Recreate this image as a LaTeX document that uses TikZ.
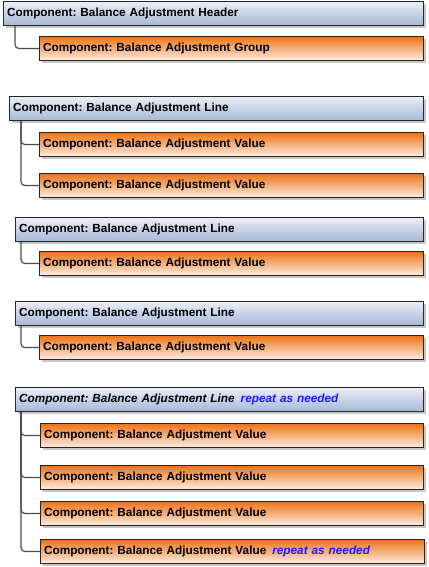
\documentclass[tikz,border=0pt]{standalone}
\usepackage{fontspec}
\setmainfont{Liberation Sans}
\usetikzlibrary{shadows}
\definecolor{blueTop}{HTML}{EAEEF7}
\definecolor{blueBot}{HTML}{A6B8D8}
\definecolor{orTop}{HTML}{EC7419}
\definecolor{orBot}{HTML}{FDEEE2}
\definecolor{repBlue}{HTML}{1A1AFF}
\frenchspacing
\begin{document}
\begin{tikzpicture}[x=1pt, y=-1pt,
  comp node/.style={draw=black!85, line width=1.1pt, anchor=north west, minimum height=24pt, inner xsep=3.5pt, inner ysep=0pt, align=left, text width=#1, font=\bfseries\fontsize{11.8}{13}\selectfont, drop shadow={shadow xshift=2.5pt, shadow yshift=-2.5pt, fill=black!22, opacity=1}},
  blue node/.style={comp node=#1, top color=blueTop, bottom color=blueBot},
  orange node/.style={comp node=#1, top color=orTop, bottom color=orBot},
  tree line/.style={draw=black!70, line width=1.2pt, rounded corners=4pt}]
\useasboundingbox (0,0) rectangle (428,567);
\newcommand\rep{\hspace{6pt}\textcolor{repBlue}{\itshape repeat as needed}}
\begin{scope}
\node[blue node=413pt] (hdr) at (3,1) {Component: Balance Adjustment Header};%header
\node[orange node=377pt] (grp) at (39,36) {Component: Balance Adjustment Group};%group
\node[blue node=407pt] (ln1) at (9,96) {Component: Balance Adjustment Line};%line 1
\node[orange node=377pt] (val1) at (39,132) {Component: Balance Adjustment Value};
\node[orange node=377pt] (val2) at (39,173) {Component: Balance Adjustment Value};
\node[blue node=401pt] (ln2) at (15,217) {Component: Balance Adjustment Line};%line 2
\node[orange node=377pt] (val3) at (39,251) {Component: Balance Adjustment Value};
\node[blue node=401pt] (ln3) at (15,301) {Component: Balance Adjustment Line};%line 3
\node[orange node=377pt] (val4) at (39,335) {Component: Balance Adjustment Value};
\node[blue node=401pt] (ln4) at (15,387) {\itshape Component: Balance Adjustment Line\rep};%line 4
\node[orange node=376pt] (val5) at (40,423) {Component: Balance Adjustment Value};
\node[orange node=376pt] (val6) at (40,465) {Component: Balance Adjustment Value};
\node[orange node=376pt] (val7) at (40,501) {Component: Balance Adjustment Value};
\node[orange node=377pt] (val8) at (40,539) {Component: Balance Adjustment Value\rep};
\end{scope}
\begin{scope}[every path/.style={tree line}]
\draw (hdr.south west) ++(12,0) |- (grp.west);
\draw (ln1.south west) ++(12,0) |- (val1.west);
\draw (ln1.south west) ++(12,0) |- (val2.west);
\draw (ln2.south west) ++(6,0) |- (val3.west);
\draw (ln3.south west) ++(6,0) |- (val4.west);
\draw (ln4.south west) ++(6,0) |- (val5.west);
\draw (ln4.south west) ++(6,0) |- (val6.west);
\draw (ln4.south west) ++(6,0) |- (val7.west);
\draw (ln4.south west) ++(6,0) |- (val8.west);
\end{scope}
\end{tikzpicture}
\end{document}
